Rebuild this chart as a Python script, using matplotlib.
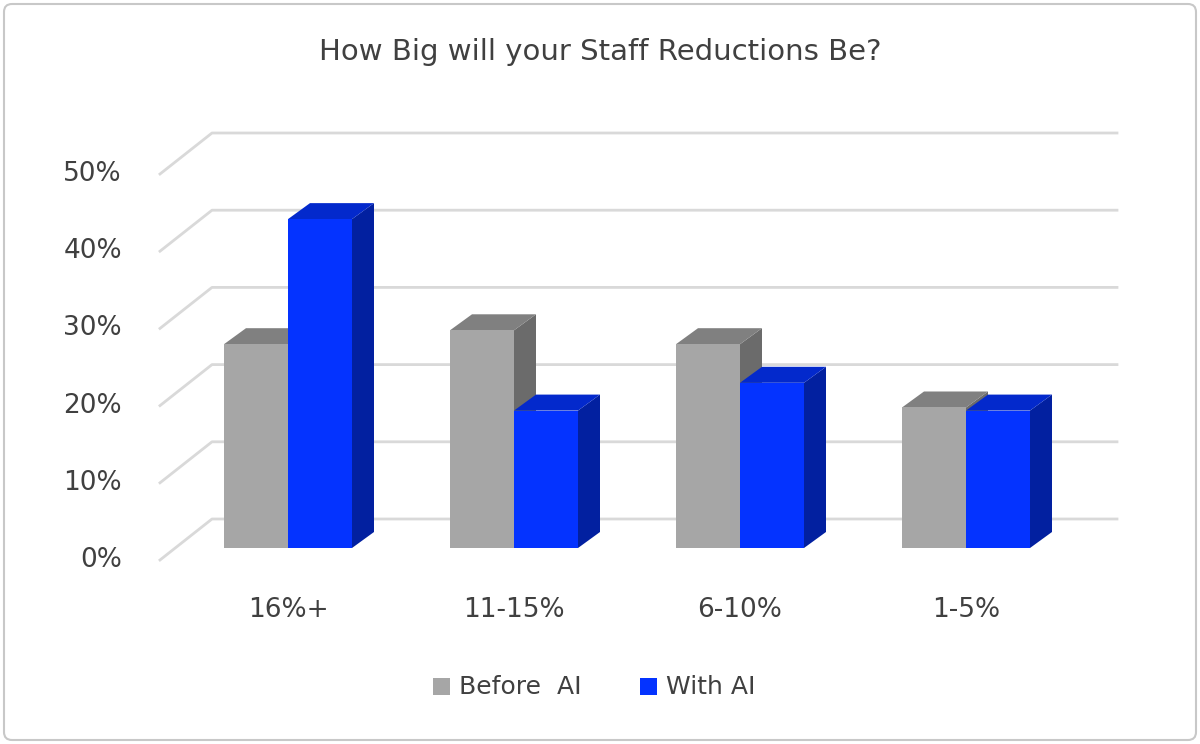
import matplotlib
matplotlib.use("Agg")
import matplotlib.pyplot as plt
from matplotlib.patches import Polygon, FancyBboxPatch

categories = ["16%+", "11-15%", "6-10%", "1-5%"]
before_ai = [26.4, 28.2, 26.4, 18.2]
with_ai = [42.6, 17.8, 21.4, 17.8]
ticks = [0, 10, 20, 30, 40, 50]
series = [("Before  AI", before_ai, ("#a6a6a6", "#808080", "#6b6b6b")),
          ("With AI", with_ai, ("#0433ff", "#0329cc", "#0220a0"))]

fig = plt.figure(figsize=(12, 7.44), dpi=100)
ax = fig.add_axes([0, 0, 1, 1])
ax.set_xlim(0, 1200)
ax.set_ylim(744, 0)
ax.axis("off")

ax.add_patch(FancyBboxPatch((4, 4), 1192, 736, boxstyle="round,pad=0,rounding_size=8",
                            fc="white", ec="#c8c8c8", lw=1.5))

px_per = 7.72          # pixels per 1%
back_x0, back_x1, back_y0 = 212, 1117, 519
wdx, wdy = 52, 41      # wall depth offset
base_y = 548
bw, bdx, bdy = 64, 22, 16

for t in ticks:
    y = back_y0 - t * px_per
    ax.plot([back_x0 - wdx, back_x0, back_x1], [y + wdy, y, y], color="#d9d9d9", lw=2, zorder=1)
    ax.text(122, y + wdy, f"{t}%", ha="right", va="center", fontsize=19, color="#404040")

for i, cat in enumerate(categories):
    cx = 288 + i * 226
    ax.text(cx, 610, cat, ha="center", va="center", fontsize=19, color="#404040")
    for j, (name, vals, (cf, ct, cs)) in enumerate(series):
        x0 = cx - bw + j * bw
        x1 = x0 + bw
        top = base_y - vals[i] * px_per
        ax.add_patch(Polygon([(x1, base_y), (x1 + bdx, base_y - bdy), (x1 + bdx, top - bdy), (x1, top)],
                             fc=cs, ec="none", zorder=2 + i * 2 + j))
        ax.add_patch(Polygon([(x0, top), (x0 + bdx, top - bdy), (x1 + bdx, top - bdy), (x1, top)],
                             fc=ct, ec="none", zorder=2 + i * 2 + j))
        ax.add_patch(Polygon([(x0, base_y), (x1, base_y), (x1, top), (x0, top)],
                             fc=cf, ec="none", zorder=2 + i * 2 + j))

ax.text(600, 52, "How Big will your Staff Reductions Be?", ha="center", va="center",
        fontsize=21, color="#404040")

lx = [433, 640]
for (name, vals, (cf, ct, cs)), x in zip(series, lx):
    ax.add_patch(Polygon([(x, 678), (x + 17, 678), (x + 17, 695), (x, 695)], fc=cf, ec="none"))
    ax.text(x + 26, 687, name, ha="left", va="center", fontsize=18, color="#404040")

fig.savefig("out.png", dpi=100)
